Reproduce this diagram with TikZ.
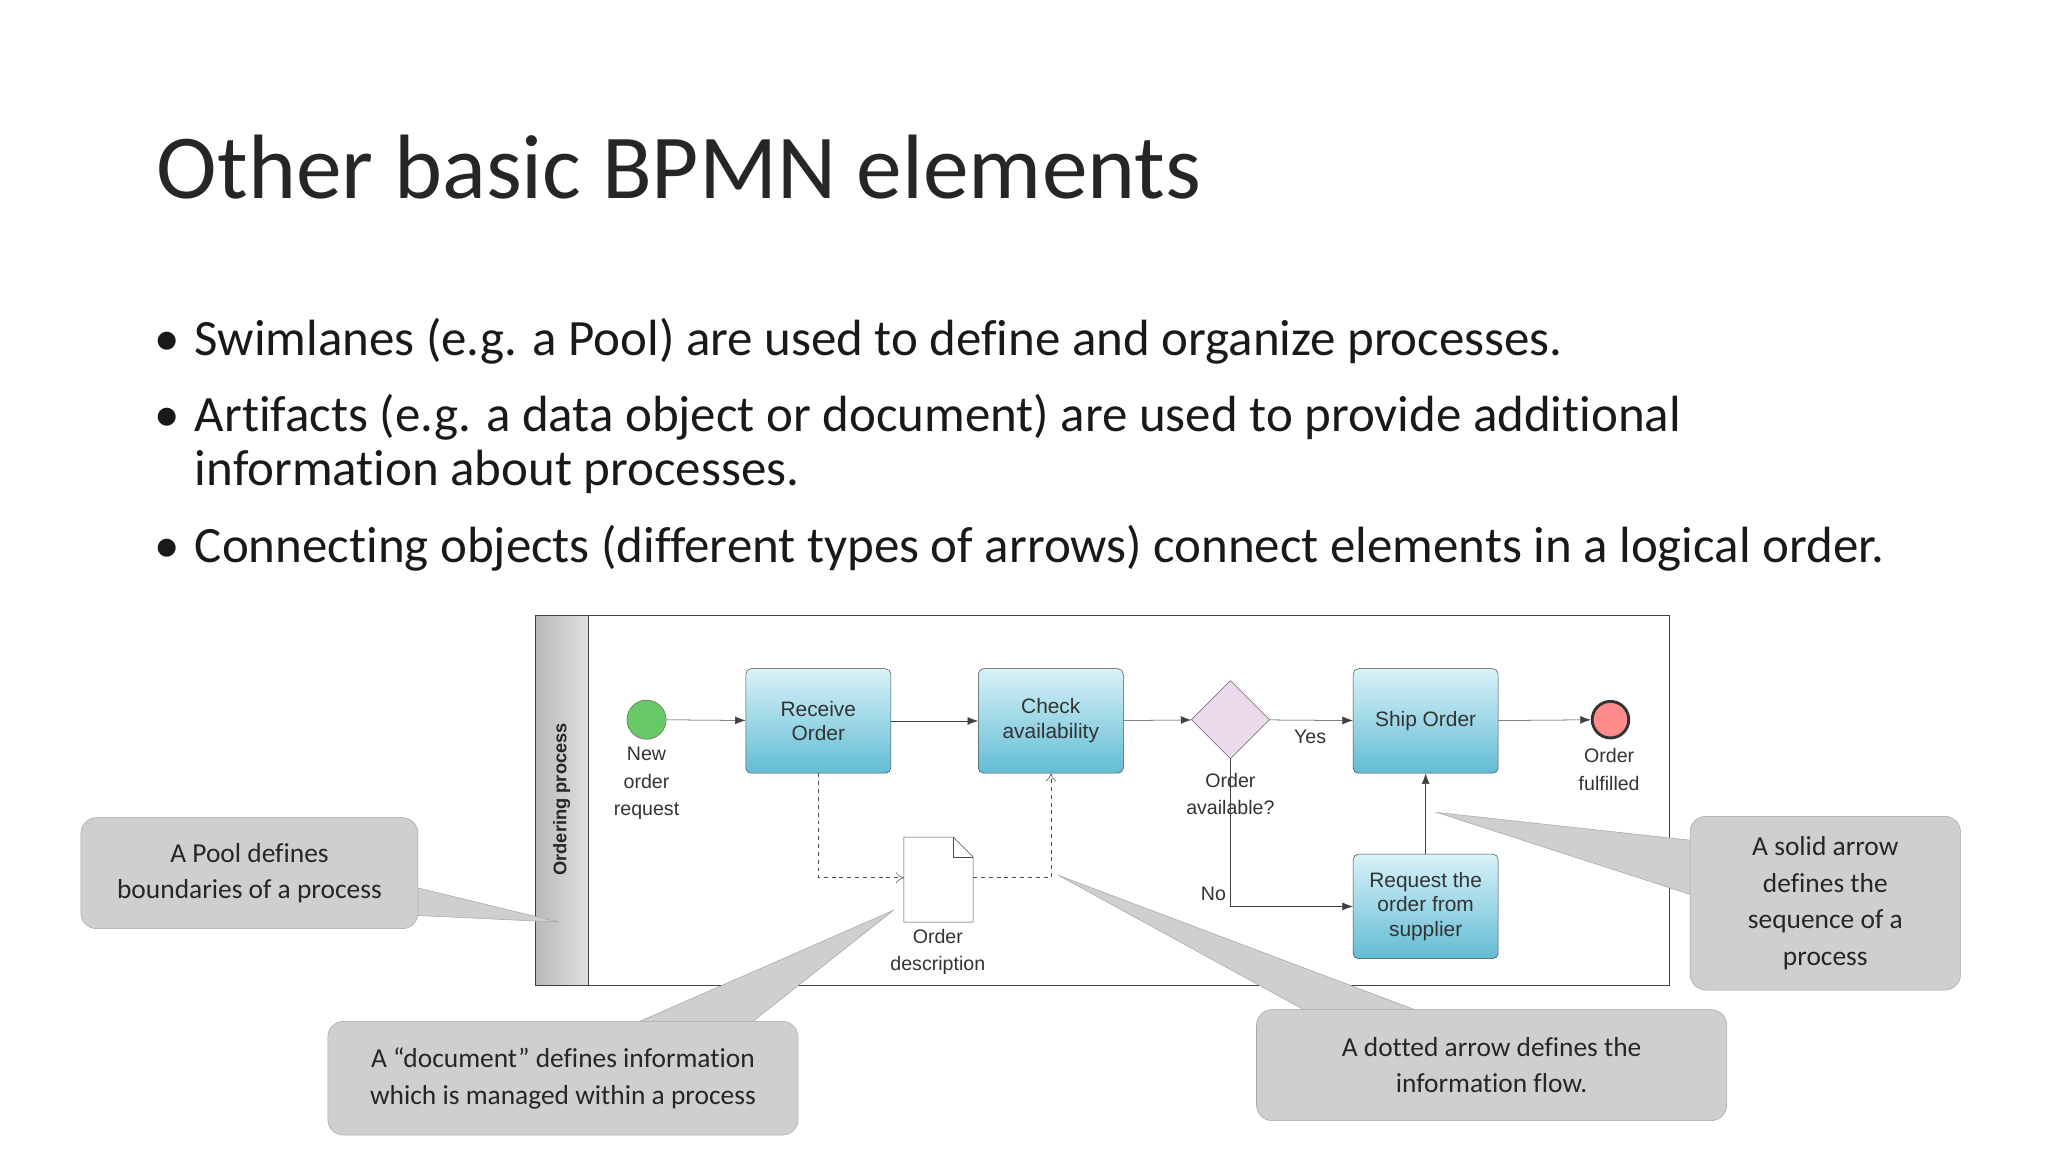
\documentclass[tikz,border=0pt]{standalone}
\usepackage{fontspec}
\setmainfont{Carlito}[Ligatures=NoCommon]
\newfontfamily\dia{Liberation Sans}
\usetikzlibrary{arrows.meta,shapes.geometric}
\definecolor{tasktop}{HTML}{D8F2F8}
\definecolor{taskbot}{HTML}{62BCD4}
\begin{document}
\begin{tikzpicture}[x=1pt,y=-1pt,
 task/.style={draw=black!70,rounded corners=4pt,top color=tasktop,bottom color=taskbot,minimum width=111pt,minimum height=80pt,font=\dia\fontsize{16}{19}\selectfont,align=center,text=black!80},
 lbl/.style={font=\dia\fontsize{15}{21}\selectfont,align=center,text=black!80},
 flow/.style={draw=black!75,-{Latex[length=8pt,width=6pt]}},
 info/.style={draw=black!70,dashed,-{To[length=6pt,width=8pt]}},
 call/.style={draw=gray!70,fill=gray!38,rounded corners=12pt,font=\fontsize{21}{28}\selectfont,align=center,text=black!85},
 ptr/.style={draw=gray!70,fill=gray!38},
 bul/.style={anchor=base west,font=\fontsize{39}{46}\selectfont,text=black!90}]
\useasboundingbox (0,0) rectangle (1568,882);
\fill[white] (0,0) rectangle (1568,882);
\node[anchor=base west,font=\fontsize{70}{76}\selectfont,text=black!85,inner sep=0] (title) at (120,152) {Other basic BPMN elements};
\foreach \y/\n in {272/d1,330/d2,431/d3} \node[bul,inner sep=0] (\n) at (118,\y) {•};
\node[bul,inner sep=0] (b1) at (149,272) {Swimlanes (e.g. a Pool) are used to define and organize processes.};
\node[bul,inner sep=0] (b2) at (149,330) {Artifacts (e.g. a data object or document) are used to provide additional};
\node[bul,inner sep=0] (b2b) at (149,372) {information about processes.};
\node[bul,inner sep=0] (b3) at (149,431) {Connecting objects (different types of arrows) connect elements in a logical order.};
% pool
\draw[black!75,fill=white] (410,471) rectangle (1278,754);
\draw[black!75,left color=gray!55,right color=gray!25] (410,471) rectangle (450,754);
\node[rotate=90,font=\dia\bfseries\fontsize{14}{16}\selectfont,text=black!85] (lane) at (430,612) {Ordering process};
% nodes
\node[circle,draw=black!60,fill=green!65!black!60!white,minimum size=30pt,inner sep=0] (start) at (495,551) {};
\node[lbl] (startl) at (495,600) {New\\order\\request};
\node[task] (recv) at (626.5,552) {Receive\\Order};
\node[task] (check) at (804.5,552) {Check\\availability};
\node[diamond,draw=black!60,fill=violet!15,minimum width=60pt,minimum height=60pt,inner sep=0] (gw) at (942,551) {};
\node[lbl] (gwl) at (942,608) {Order\\available?};
\node[task] (ship) at (1091.5,552) {Ship Order};
\node[circle,draw=black!80,line width=2.2pt,fill=red!45,minimum size=28pt,inner sep=0] (end) at (1233,551) {};
\node[lbl] (endl) at (1232,589) {Order\\fulfilled};
\node[task] (req) at (1091.5,694) {Request the\\order from\\supplier};
% document
\draw[black!70,fill=white] (692,641) -- (730,641) -- (745,656) -- (745,706) -- (692,706) -- cycle;
\draw[black!70] (730,641) -- (730,656) -- (745,656);
\coordinate (docL) at (692,672);
\coordinate (docR) at (745,672);
\node[lbl] (docl) at (718,729) {Order\\description};
% flows
\draw[flow] (start) -- (recv);
\draw[flow] (recv) -- (check);
\draw[flow] (check) -- (gw);
\draw[flow] (gw) -- (ship);
\node[lbl] (yes) at (1003,564) {Yes};
\draw[flow] (ship) -- (end);
\draw[flow] (gw.south) |- (req.west);
\node[lbl] (no) at (929,684) {No};
\draw[flow] (req) -- (ship);
\draw[info] (recv.south) |- (docL);
\draw[info] (docR) -| (check.south);
% callouts
\draw[ptr] (300,675) -- (428,706) -- (300,700) -- cycle;
\node[call,minimum width=258pt,minimum height=85pt] (c1) at (191,668.5) {A Pool defines\\boundaries of a process};
\draw[ptr] (460,795) -- (684,697) -- (560,795) -- cycle;
\node[call,minimum width=360pt,minimum height=87pt] (c2) at (431,825.5) {A “document” defines information\\which is managed within a process};
\draw[ptr] (1020,785) -- (810,670) -- (1115,785) -- cycle;
\node[call,minimum width=360pt,minimum height=85pt] (c3) at (1142,815.5) {A dotted arrow defines the\\information flow.};
\draw[ptr] (1310,645) -- (1100,622) -- (1310,690) -- cycle;
\node[call,minimum width=207pt,minimum height=133pt] (c4) at (1397.5,691.5) {A solid arrow\\defines the\\sequence of a\\process};
\end{tikzpicture}
\end{document}
